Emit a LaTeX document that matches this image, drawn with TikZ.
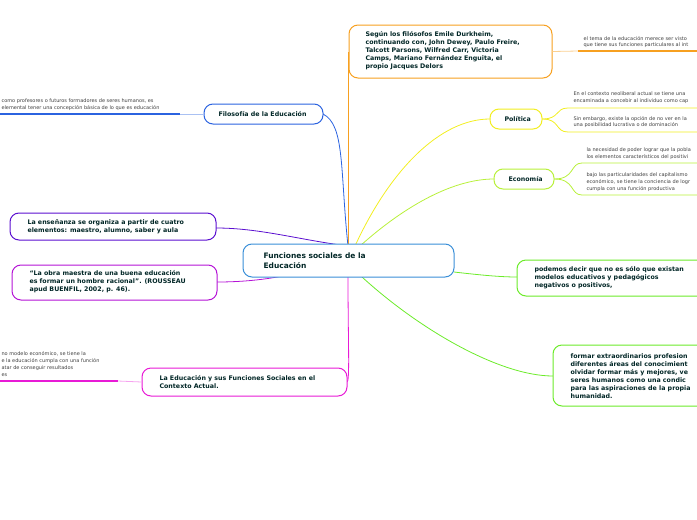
\documentclass[tikz,border=0pt]{standalone}
\usepackage{fontspec}
\setmainfont{DejaVu Sans}
\begin{document}
\begin{tikzpicture}[x=1pt,y=-1pt,
  box/.style={draw=#1,line width=1pt,rounded corners=9pt,fill=white,inner sep=0pt},
  ttl/.style={font=\bfseries\fontsize{6.3}{8}\selectfont,text=black!70!teal,align=left,anchor=west},
  sml/.style={font=\fontsize{5}{6.8}\selectfont,text=black!75,align=left,anchor=west},
  con/.style={line width=0.8pt}]
\useasboundingbox (0,0) rectangle (697,520);
\clip (0,0) rectangle (697,520);
\definecolor{colb}{HTML}{2B63E0}\definecolor{colp}{HTML}{5B0FD0}\definecolor{colm}{HTML}{B513D6}
\definecolor{colmg}{HTML}{E81AD6}\definecolor{colo}{HTML}{F7A020}\definecolor{coly}{HTML}{F2EE20}
\definecolor{colyg}{HTML}{B8F03A}\definecolor{colg}{HTML}{6CEB2A}\definecolor{colc}{HTML}{3A8FD8}
\coordinate (c) at (348,246);
% connectors
\draw[con,colb] (c) .. controls (340,170) and (345,125) .. (323,114);
\draw[con,colp] (c) .. controls (300,240) and (260,228) .. (216,228);
\draw[con,colm] (300,272) .. controls (270,280) and (240,282) .. (217,282);
\draw[con,colmg] (348,277) .. controls (348,340) and (350,382) .. (347,382);
\draw[con,colo] (c) -- (348,52);
\draw[con,coly] (355,246) .. controls (390,170) and (440,119) .. (490,119);
\draw[con,colyg] (360,246) .. controls (400,210) and (450,179) .. (494,179);
\draw[con,colg] (454,272) .. controls (480,275) and (500,277) .. (517,277);
\draw[con,colg] (362,277) .. controls (420,330) and (500,376) .. (553,376);
% central
\node[box=colc,minimum width=211pt,minimum height=33pt] (central) at (348.5,260.5) {};
\node[ttl,font=\bfseries\fontsize{7.5}{10}\selectfont] at (260,261) {Funciones sociales de la\\Educación};
% main nodes
\node[box=colb,minimum width=119pt,minimum height=20pt] (fil) at (263.5,114) {};
\node[ttl] at (215,114) {Filosofía de la Educación};
\node[box=colp,minimum width=206pt,minimum height=27pt] (ens) at (113,226.5) {};
\node[ttl] at (24,227) {La enseñanza se organiza a partir de cuatro\\elementos: maestro, alumno, saber y aula};
\node[box=colm,minimum width=205pt,minimum height=35pt] (obr) at (114.5,282.5) {};
\node[ttl] at (26,282) {“La obra maestra de una buena educación\\es formar un hombre racional”. (ROUSSEAU\\apud BUENFIL, 2002, p. 46).};
\node[box=colmg,minimum width=205pt,minimum height=28pt] (edu) at (244.5,382) {};
\node[ttl] at (156,382) {La Educación y sus Funciones Sociales en el\\Contexto Actual.};
\node[box=colo,minimum width=203pt,minimum height=53pt] (seg) at (450.5,51.5) {};
\node[ttl] at (362,51) {Según los filósofos Emile Durkheim,\\continuando con, John Dewey, Paulo Freire,\\Talcott Parsons, Wilfred Carr, Victoria\\Camps, Mariano Fernández Enguita, el\\propio Jacques Delors};
\node[box=coly,minimum width=52pt,minimum height=20pt] (pol) at (516,119) {};
\node[ttl] at (501,119) {Política};
\node[box=colyg,minimum width=60pt,minimum height=20pt] (eco) at (524,179) {};
\node[ttl] at (505,179) {Economía};
\node[box=colg,minimum width=200pt,minimum height=36pt] (pod) at (617,278) {};
\node[ttl] at (531,278) {podemos decir que no es sólo que existan\\modelos educativos y pedagógicos\\negativos o positivos,};
\node[box=colg,minimum width=200pt,minimum height=61pt] (for) at (653,375.5) {};
\node[ttl] at (567,376) {formar extraordinarios profesion\\diferentes áreas del conocimient\\olvidar formar más y mejores, ve\\seres humanos como una condic\\para las aspiraciones de la propia\\humanidad.};
% leaves
\draw[line width=1.2pt,colb] (0,114) -- (180,114);
\draw[con,colb!40] (180,114) -- (fil.west);
\node[sml] at (-2,105) {como profesores o futuros formadores de seres humanos, es\\elemental tener una concepción básica de lo que es educación};
\draw[line width=1.2pt,colmg] (0,381) -- (118,381);
\draw[con,colmg!40] (118,381) -- (edu.west);
\node[sml] at (-2,364) {no modelo económico, se tiene la\\e la educación cumpla con una función\\atar de conseguir resultados\\es};
\draw[con,colo!50] (seg.east) -- (578,51);
\draw[line width=1.2pt,colo] (578,51) -- (697,51);
\node[sml] at (580,42) {el tema de la educación merece ser visto\\que tiene sus funciones particulares al int};
\draw[con,coly] (pol.east) .. controls (560,119) and (555,108) .. (568,108) -- (697,108);
\draw[con,coly] (pol.east) .. controls (560,119) and (555,132) .. (568,132) -- (697,132);
\node[sml] at (570,98) {En el contexto neoliberal actual se tiene una\\encaminada a concebir al individuo como cap};
\node[sml] at (570,122) {Sin embargo, existe la opción de no ver en la\\una posibilidad lucrativa o de dominación};
\draw[con,colyg] (eco.east) .. controls (575,179) and (570,163) .. (582,163) -- (697,163);
\draw[con,colyg] (eco.east) .. controls (575,179) and (570,195) .. (582,195) -- (697,195);
\node[sml] at (583,154) {la necesidad de poder lograr que la pobla\\los elementos característicos del positivi};
\node[sml] at (583,182) {bajo las particularidades del capitalismo\\económico, se tiene la conciencia de logr\\cumpla con una función productiva};
\end{tikzpicture}
\end{document}
